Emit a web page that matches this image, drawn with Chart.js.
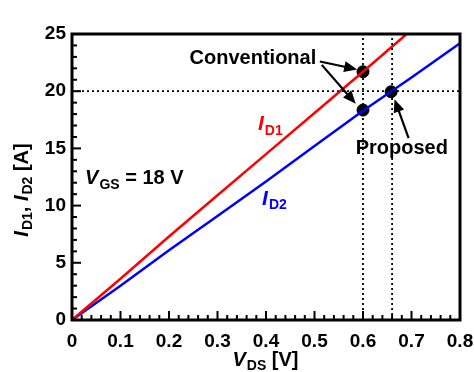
<!DOCTYPE html>
<html lang="en">
<head>
  <meta charset="UTF-8" />
  <title>ID vs VDS</title>
  <script src="https://cdn.jsdelivr.net/npm/chart.js"></script>
  <style>
    body { margin: 0; background: #fff; }
    #wrap { width: 474px; height: 372px; }
  </style>
</head>
<body>
  <div id="wrap"><canvas id="c"></canvas></div>
  <script>
    // data
    const vdsRed = [0, 0.1, 0.2, 0.3, 0.4, 0.5, 0.6, 0.69];
    const id1 = [0, 3.6, 7.3, 10.9, 14.5, 18.1, 21.7, 25];
    const vdsBlue = [0, 0.1, 0.2, 0.3, 0.4, 0.5, 0.6, 0.7, 0.8];
    const id2 = [0, 3.0, 6.1, 9.1, 12.1, 15.2, 18.3, 21.2, 24.2];
    const markX = [0.6, 0.6, 0.658];
    const markY = [21.7, 18.35, 19.95];
    const refVds = [0.6, 0.66];
    const refId = 20;

    const pts = (xs, ys) => xs.map((x, i) => ({ x: x, y: ys[i] }));
    const dotted = { borderColor: '#000', borderWidth: 1.8, borderDash: [2, 3], pointRadius: 0, showLine: true, fill: false };

    // rich text: parts of {t, it, sub}
    function rich(ctx, parts, x, y, align, color, size) {
      size = size || 20;
      const font = (p) => 'bold ' + (p.it ? 'italic ' : '') + (p.sub ? Math.round(size * 0.68) : size) + 'px "Liberation Sans", Arial, sans-serif';
      let w = 0;
      parts.forEach(p => { ctx.font = font(p); w += ctx.measureText(p.t).width; });
      let cx = align === 'center' ? x - w / 2 : (align === 'right' ? x - w : x);
      ctx.fillStyle = color || '#000';
      ctx.textBaseline = 'middle';
      ctx.textAlign = 'left';
      parts.forEach(p => {
        ctx.font = font(p);
        ctx.fillText(p.t, cx, p.sub ? y + size * 0.3 : y);
        cx += ctx.measureText(p.t).width + (p.it ? 1 : 0);
      });
    }

    function arrow(ctx, x1, y1, x2, y2) {
      const a = Math.atan2(y2 - y1, x2 - x1);
      const L = 13, W = 5.5;
      ctx.strokeStyle = '#000'; ctx.fillStyle = '#000'; ctx.lineWidth = 2.2;
      ctx.beginPath(); ctx.moveTo(x1, y1);
      ctx.lineTo(x2 - L * 0.8 * Math.cos(a), y2 - L * 0.8 * Math.sin(a)); ctx.stroke();
      ctx.beginPath();
      ctx.moveTo(x2, y2);
      ctx.lineTo(x2 - L * Math.cos(a) + W * Math.sin(a), y2 - L * Math.sin(a) - W * Math.cos(a));
      ctx.lineTo(x2 - L * Math.cos(a) - W * Math.sin(a), y2 - L * Math.sin(a) + W * Math.cos(a));
      ctx.closePath(); ctx.fill();
    }

    const decor = {
      id: 'decor',
      afterDraw(chart) {
        const ctx = chart.ctx, a = chart.chartArea;
        const X = chart.scales.x, Y = chart.scales.y;
        const px = v => X.getPixelForValue(v), py = v => Y.getPixelForValue(v);
        ctx.save();
        // inward ticks
        ctx.strokeStyle = '#000'; ctx.lineWidth = 2;
        for (let i = 0; i <= 40; i++) {
          const x = px(i * 0.02), len = i % 5 === 0 ? 9 : 5;
          ctx.beginPath(); ctx.moveTo(x, a.bottom); ctx.lineTo(x, a.bottom - len); ctx.stroke();
        }
        for (let i = 0; i <= 25; i++) {
          const y = py(i), len = i % 5 === 0 ? 9 : 5;
          ctx.beginPath(); ctx.moveTo(a.left, y); ctx.lineTo(a.left + len, y); ctx.stroke();
        }
        // frame
        ctx.lineWidth = 3;
        ctx.strokeRect(a.left, a.top, a.right - a.left, a.bottom - a.top);

        // annotations
        rich(ctx, [{ t: 'Conventional' }], px(0.373), py(22.9), 'center');
        arrow(ctx, px(0.511), py(22.6), px(0.588), py(21.9));
        arrow(ctx, px(0.515), py(22.3), px(0.585), py(18.9));
        rich(ctx, [{ t: 'Proposed' }], px(0.68), py(14.95), 'center');
        arrow(ctx, px(0.694), py(15.9), px(0.665), py(19.3));
        rich(ctx, [{ t: 'I', it: true }, { t: 'D1', sub: true }], px(0.3835), py(17.1), 'left', '#ff0000', 21);
        rich(ctx, [{ t: 'I', it: true }, { t: 'D2', sub: true }], px(0.392), py(10.6), 'left', '#0000ff', 21);
        rich(ctx, [{ t: 'V', it: true }, { t: 'GS', sub: true }, { t: ' = 18 V' }], px(0.027), py(12.35), 'left');

        // axis titles
        rich(ctx, [{ t: 'V', it: true }, { t: 'DS', sub: true }, { t: ' [V]' }], 265, 360, 'center');
        ctx.translate(22, 191);
        ctx.rotate(-Math.PI / 2);
        rich(ctx, [{ t: 'I', it: true }, { t: 'D1', sub: true }, { t: ', ' }, { t: 'I', it: true }, { t: 'D2', sub: true }, { t: ' [A]' }], 0, 0, 'center');
        ctx.restore();
      }
    };

    new Chart(document.getElementById('c'), {
      type: 'scatter',
      data: {
        datasets: [
          Object.assign({ data: [{ x: refVds[0], y: 0 }, { x: refVds[0], y: 25 }] }, dotted),
          Object.assign({ data: [{ x: refVds[1], y: 0 }, { x: refVds[1], y: 25 }] }, dotted),
          Object.assign({ data: [{ x: 0, y: refId }, { x: 0.8, y: refId }] }, dotted),
          { data: pts(vdsRed, id1), showLine: true, borderColor: '#ff0000', borderWidth: 2.5, pointRadius: 0 },
          { data: pts(vdsBlue, id2), showLine: true, borderColor: '#0000ff', borderWidth: 2.5, pointRadius: 0 },
          { data: pts(markX, markY), pointRadius: 6, pointBackgroundColor: '#000', pointBorderColor: '#000', backgroundColor: '#000', borderColor: '#000' }
        ]
      },
      options: {
        responsive: true,
        maintainAspectRatio: false,
        animation: false,
        layout: { padding: { top: 34, right: 14, left: 0, bottom: 0 } },
        plugins: { legend: { display: false }, tooltip: { enabled: false } },
        scales: {
          x: {
            type: 'linear', min: 0, max: 0.8,
            grid: { display: false, drawTicks: false },
            border: { display: false },
            afterFit: s => { s.height = 52; s.paddingLeft = 0; s.paddingRight = 0; },
            ticks: {
              stepSize: 0.1, padding: 10, color: '#000', maxRotation: 0,
              font: { family: '"Liberation Sans", Arial, sans-serif', size: 19, weight: 'bold' },
              callback: v => String(Math.round(v * 10) / 10)
            }
          },
          y: {
            min: 0, max: 25,
            grid: { display: false, drawTicks: false },
            border: { display: false },
            afterFit: s => { s.width = 72; s.paddingTop = 0; s.paddingBottom = 0; },
            ticks: {
              stepSize: 5, padding: 6, color: '#000',
              font: { family: '"Liberation Sans", Arial, sans-serif', size: 19, weight: 'bold' }
            }
          }
        }
      },
      plugins: [decor]
    });
  </script>
</body>
</html>
